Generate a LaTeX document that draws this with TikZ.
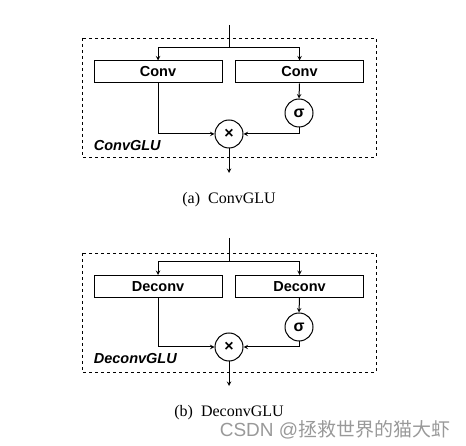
\documentclass[tikz,border=0pt]{standalone}
\usepackage{fontspec}
\setmainfont{Liberation Serif}
\setsansfont{Liberation Sans}
\newfontfamily\cjk{Noto Sans CJK SC}
\usetikzlibrary{arrows}

\begin{document}
\begin{tikzpicture}[x=1pt,y=-1pt,line width=1pt,
  block/.style={draw,minimum width=128pt,minimum height=22pt,inner sep=0pt,font=\fontsize{14.5}{16}\sffamily\bfseries},
  op/.style={draw,circle,minimum size=28pt,inner sep=0pt,font=\fontsize{16}{16}\sffamily\bfseries},
  frame/.style={dashed,line width=0.9pt},
  tag/.style={anchor=west,font=\fontsize{14.5}{16}\sffamily\bfseries\itshape},
  caption/.style={font=\fontsize{16}{18}\selectfont}]
  \useasboundingbox (0,0) rectangle (466,446);

  \draw[frame] (82,38) rectangle (376,157);
  \node[block] (c1) at (158,72) {Conv};
  \node[block] (c2) at (299.5,72) {Conv};
  \node[op] (s1) at (299,113) {σ};
  \node[op] (m1) at (229,134) {×};
  \coordinate (in1) at (229,25);
  \coordinate (j1) at (229,48);
  \coordinate (out1) at (229,173);
  \node[tag] (t1) at (90,146) {ConvGLU};
  \node[caption] (cap1) at (229,200) {(a)\ \ ConvGLU};
  \draw (in1) -- (j1);
  \draw[-stealth] (j1) -| (c1.north);
  \draw[-stealth] (j1) -| (c2.north);
  \draw[-stealth] (c2.south) -- (s1.north);
  \draw[-stealth] (c1.south) |- (m1.west);
  \draw[-stealth] (s1.south) |- (m1.east);
  \draw[-stealth] (m1.south) -- (out1);

  \draw[frame] (82,253) rectangle (376,372);
  \node[block] (d1) at (158,286.5) {Deconv};
  \node[block] (d2) at (299.5,286.5) {Deconv};
  \node[op] (s2) at (299,327) {σ};
  \node[op] (m2) at (229,347) {×};
  \coordinate (in2) at (229,238);
  \coordinate (j2) at (229,262);
  \coordinate (out2) at (229,386);
  \node[tag] (t2) at (90,359) {DeconvGLU};
  \node[caption] (cap2) at (229,413) {(b)\ \ DeconvGLU};
  \draw (in2) -- (j2);
  \draw[-stealth] (j2) -| (d1.north);
  \draw[-stealth] (j2) -| (d2.north);
  \draw[-stealth] (d2.south) -- (s2.north);
  \draw[-stealth] (d1.south) |- (m2.west);
  \draw[-stealth] (s2.south) |- (m2.east);
  \draw[-stealth] (m2.south) -- (out2);

  \node[anchor=west,text=black!40,font=\fontsize{19}{20}\selectfont] (wm) at (216,430) {\sffamily CSDN @\cjk 拯救世界的猫大虾};
\end{tikzpicture}
\end{document}
